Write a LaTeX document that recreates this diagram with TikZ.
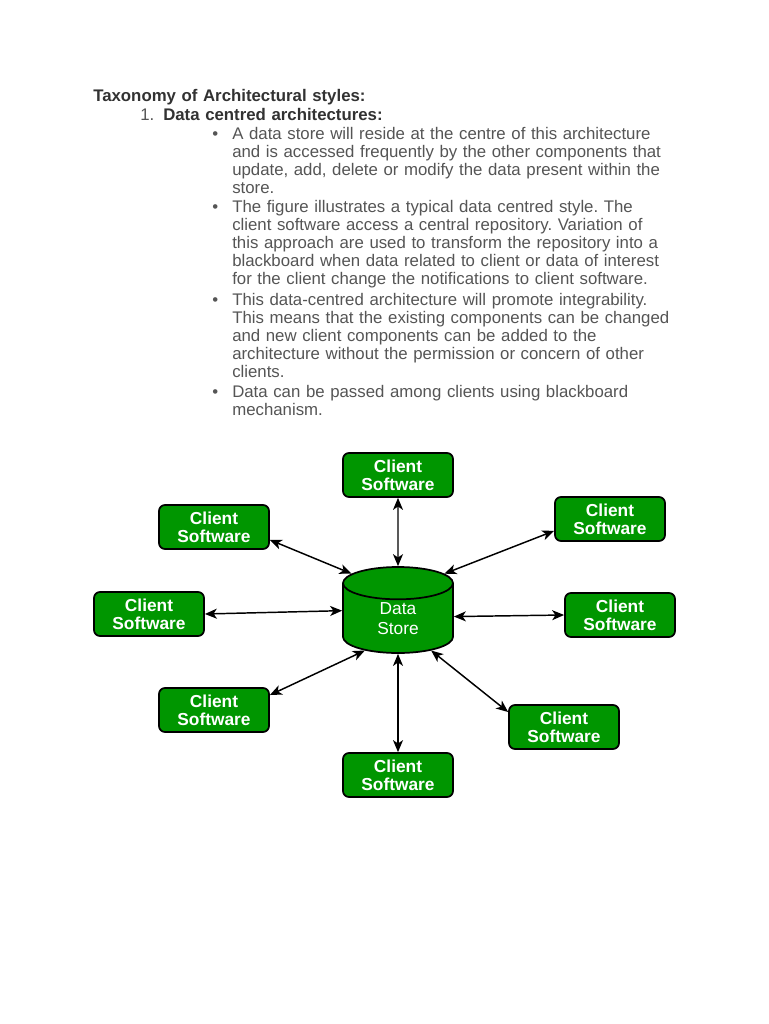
\documentclass[tikz,border=0pt]{standalone}
\usepackage{fontspec}
\setmainfont{Liberation Sans}
\usetikzlibrary{shapes.geometric, arrows.meta, positioning}
\definecolor{boxgreen}{RGB}{0, 150, 0}
\definecolor{headgray}{RGB}{50, 50, 50}
\definecolor{textgray}{RGB}{85, 85, 85}

\tikzset{
  bodytext/.style={font=\fontsize{12.6}{13.65}\selectfont, text=textgray, anchor=base west, inner sep=0pt, text width=360pt, align=left},
  headtext/.style={bodytext, text=headgray, font=\fontsize{12.6}{13.65}\selectfont\bfseries},
  clientbox/.style={draw=black, line width=1.3pt, fill=boxgreen, rounded corners=4.5pt, minimum width=82.5pt, minimum height=33pt, inner sep=0pt, align=center, text=white, font=\fontsize{13}{13.5}\selectfont\bfseries},
  store/.style={shape=cylinder, shape border rotate=90, aspect=0.78, draw=black, line width=1.3pt, fill=boxgreen, minimum width=82.5pt, minimum height=64.5pt, inner sep=0pt, align=center, text=white, font=\fontsize{13}{14.5}\selectfont, anchor=shape center},
  link/.style={{Stealth[length=9pt, width=7.5pt, inset=2.5pt]}-{Stealth[length=9pt, width=7.5pt, inset=2.5pt]}, line width=1.1pt}
}

\begin{document}
\frenchspacing
\begin{tikzpicture}[x=0.75pt, y=-0.75pt]
  \useasboundingbox[fill=white] (0,0) rectangle (768,1024);

  % Heading and list
  \node[headtext] (title) at (93,101) {Taxonomy of Architectural styles:};
  \node[bodytext] (num1) at (140,120) {1.};
  \node[headtext] (item1) at (163,120) {Data centred architectures:};

  \node[bodytext] (dot1) at (212,139) {\textbullet};
  \node[bodytext] (bul1) at (232,139) {
    A data store will reside at the centre of this architecture\\
    and is accessed frequently by the other components that\\
    update, add, delete or modify the data present within the\\
    store.
  };
  \node[bodytext] (dot2) at (212,212) {\textbullet};
  \node[bodytext] (bul2) at (232,212) {
    The figure illustrates a typical data centred style. The\\
    client software access a central repository. Variation of\\
    this approach are used to transform the repository into a\\
    blackboard when data related to client or data of interest\\
    for the client change the notifications to client software.
  };
  \node[bodytext] (dot3) at (212,305) {\textbullet};
  \node[bodytext] (bul3) at (232,305) {
    This data-centred architecture will promote integrability.\\
    This means that the existing components can be changed\\
    and new client components can be added to the\\
    architecture without the permission or concern of other\\
    clients.
  };
  \node[bodytext] (dot4) at (212,397) {\textbullet};
  \node[bodytext] (bul4) at (232,397) {
    Data can be passed among clients using blackboard\\
    mechanism.
  };

  % Data store and clients
  \node[store] (store) at (398,610) {Data\\Store};

  \node[clientbox] (c-top) at (398,475) {Client\\Software};
  \node[clientbox] (c-nw) at (214,527) {Client\\Software};
  \node[clientbox] (c-ne) at (610,519) {Client\\Software};
  \node[clientbox] (c-w) at (149,614) {Client\\Software};
  \node[clientbox] (c-e) at (620,615) {Client\\Software};
  \node[clientbox] (c-sw) at (214,710) {Client\\Software};
  \node[clientbox] (c-se) at (564,727) {Client\\Software};
  \node[clientbox] (c-bot) at (398,775) {Client\\Software};

  % Connections
  \draw[link] (c-top.south) -- (store.north);
  \draw[link] (c-nw.-13) -- (store.136);
  \draw[link] (c-ne.192) -- (store.44);
  \draw[link] (c-w.east) -- (store.172);
  \draw[link] (c-e.west) -- (store.2);
  \draw[link] (c-sw.15) -- (store.224);
  \draw[link] (c-se.165) -- (store.-44);
  \draw[link] (c-bot.north) -- (store.south);
\end{tikzpicture}
\end{document}
